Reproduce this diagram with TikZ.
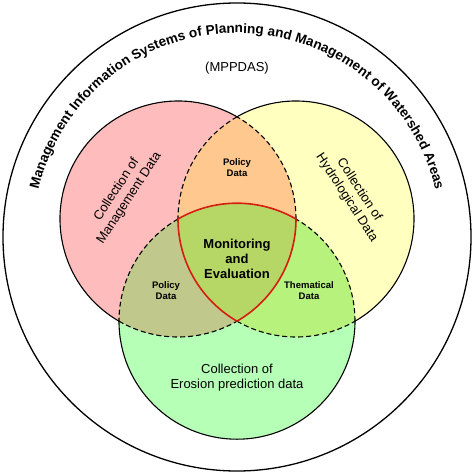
\documentclass[tikz,border=0pt]{standalone}
\usepackage{fontspec}
\setmainfont{Liberation Sans}
\usetikzlibrary{decorations.text}
\definecolor{mgmtpink}{RGB}{255,188,188}
\definecolor{hydroyel}{RGB}{255,255,192}
\definecolor{erosgreen}{RGB}{182,255,182}
\definecolor{pyorange}{RGB}{255,200,142}
\definecolor{pgolive}{RGB}{192,200,140}
\definecolor{yglime}{RGB}{182,242,124}
\definecolor{allgreen}{RGB}{182,214,102}
\definecolor{evalred}{RGB}{214,30,16}
\newcommand{\Rv}{118}
\tikzset{
  ring/.style={line width=1.3pt},
  vc/.style={line width=1.1pt},
  vd/.style={line width=1.1pt, dash pattern=on 5pt off 3pt},
  vr/.style={line width=1.6pt, evalred},
  lbl/.style={align=center, font=\fontsize{13}{15}\selectfont},
  blbl/.style={align=center, font=\fontsize{13}{15}\selectfont\bfseries},
  slbl/.style={align=center, font=\fontsize{9.5}{11}\selectfont\bfseries},
}
\begin{document}
\begin{tikzpicture}[x=1pt,y=1pt]
  \useasboundingbox (-237,-237) rectangle (237,237);
  \coordinate (O) at (0,0);
  \coordinate (P) at (-59,18);
  \coordinate (Y) at (59,18);
  \coordinate (G) at (0,-84.2);
  \draw[ring] (O) circle (234);
  \fill[mgmtpink] (P) circle (\Rv);
  \fill[hydroyel] (Y) circle (\Rv);
  \fill[erosgreen] (G) circle (\Rv);
  \begin{scope}
    \clip (P) circle (\Rv);
    \fill[pyorange] (Y) circle (\Rv);
    \fill[pgolive] (G) circle (\Rv);
  \end{scope}
  \begin{scope}
    \clip (Y) circle (\Rv);
    \fill[yglime] (G) circle (\Rv);
  \end{scope}
  \begin{scope}
    \clip (P) circle (\Rv);
    \clip (Y) circle (\Rv);
    \fill[allgreen] (G) circle (\Rv);
  \end{scope}
  \draw[vc] (P) ++(60:\Rv) arc[start angle=60, end angle=240, radius=\Rv];
  \draw[vd] (P) ++(240:\Rv) arc[start angle=240, end angle=300, radius=\Rv];
  \draw[vd] (P) ++(0:\Rv) arc[start angle=0, end angle=60, radius=\Rv];
  \draw[vc] (Y) ++(-60:\Rv) arc[start angle=-60, end angle=120, radius=\Rv];
  \draw[vd] (Y) ++(120:\Rv) arc[start angle=120, end angle=180, radius=\Rv];
  \draw[vd] (Y) ++(240:\Rv) arc[start angle=240, end angle=300, radius=\Rv];
  \draw[vc] (G) ++(180:\Rv) arc[start angle=180, end angle=360, radius=\Rv];
  \draw[vd] (G) ++(0:\Rv) arc[start angle=0, end angle=60, radius=\Rv];
  \draw[vd] (G) ++(120:\Rv) arc[start angle=120, end angle=180, radius=\Rv];
  \draw[vr] (P) ++(-60:\Rv) arc[start angle=-60, end angle=0, radius=\Rv];
  \draw[vr] (Y) ++(180:\Rv) arc[start angle=180, end angle=240, radius=\Rv];
  \draw[vr] (G) ++(60:\Rv) arc[start angle=60, end angle=120, radius=\Rv];
  \path[decorate, decoration={text along path, text align=center,
    text={|\fontsize{13.6}{15}\selectfont\bfseries|Management Information Systems of Planning and Management of Watershed Areas}}]
    (O) ++(180:204) arc[start angle=180, end angle=0, radius=204];
  \node[lbl] (abbr) at (0,169) {(MPPDAS)};
  \node[lbl, rotate=57] (mgmt) at (-114,43) {Collection of\\Management Data};
  \node[lbl, rotate=-57] (hydro) at (116,43) {Collection of\\Hydrological Data};
  \node[lbl] (eros) at (0,-141) {Collection of\\Erosion prediction data};
  \node[slbl] (polA) at (0,69) {Policy\\Data};
  \node[slbl] (polB) at (-71,-54) {Policy\\Data};
  \node[slbl] (them) at (72,-54) {Thematical\\Data};
  \node[blbl] (moni) at (0,-22) {Monitoring\\and\\Evaluation};
\end{tikzpicture}
\end{document}
